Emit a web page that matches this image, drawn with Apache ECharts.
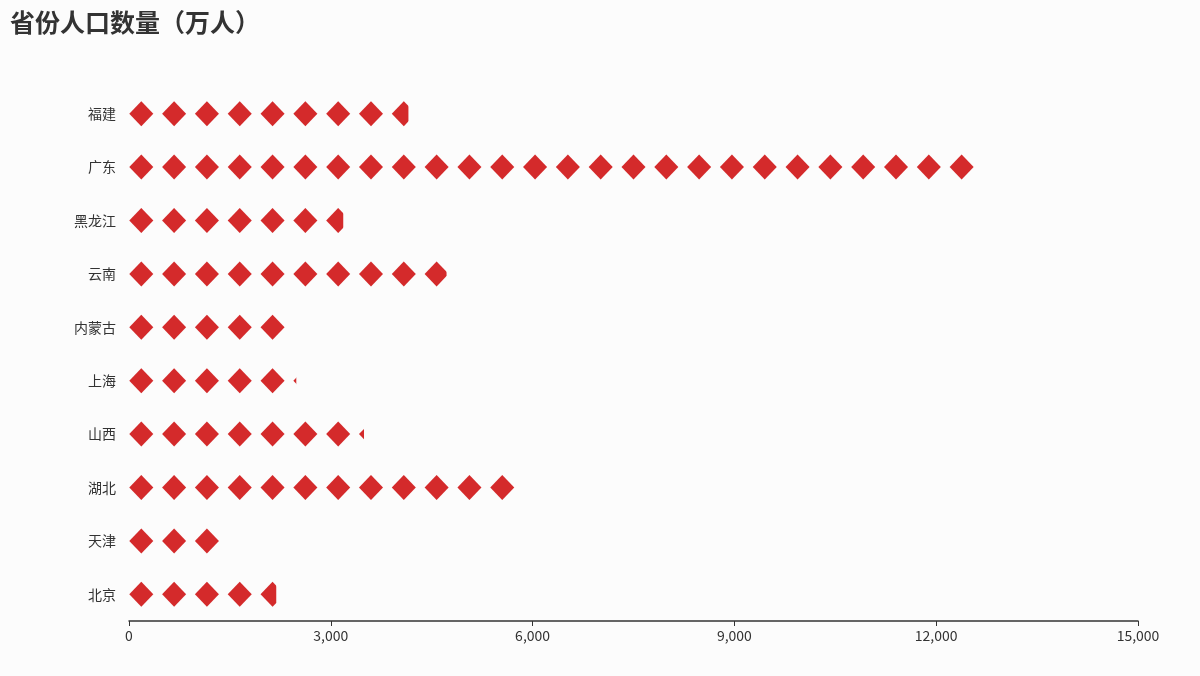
<!DOCTYPE html>
<html>
<head>
<meta charset="utf-8">
<script src="https://cdn.jsdelivr.net/npm/echarts@6/dist/echarts.min.js"></script>
<style>
html,body{margin:0;padding:0;background:#fcfcfc;}
#main{width:1200px;height:676px;}
</style>
</head>
<body>
<div id="main"></div>
<script>
var titleText = '省份人口数量（万人）';
var provinces = ['北京', '天津', '湖北', '山西', '上海', '内蒙古', '云南', '黑龙江', '广东', '福建'];
var population = [2189, 1387, 5775, 3492, 2487, 2405, 4721, 3185, 12601, 4154];
var xMax = 15000;
var xInterval = 3000;

var chart = echarts.init(document.getElementById('main'));
var font = '"Noto Sans CJK SC", "Noto Sans", sans-serif';
chart.setOption({
  backgroundColor: '#fcfcfc',
  animation: false,
  title: {
    text: titleText,
    left: 5,
    top: 5,
    textStyle: {fontSize: 25, fontWeight: 'bold', color: '#333', fontFamily: font}
  },
  grid: {left: 129, right: 62, top: 87, bottom: 55, containLabel: false},
  xAxis: {
    type: 'value',
    min: 0,
    max: xMax,
    interval: xInterval,
    splitLine: {show: false},
    axisLine: {show: true, lineStyle: {color: '#333', width: 1.5}},
    axisTick: {show: true, length: 5, lineStyle: {color: '#333'}},
    axisLabel: {
      color: '#333', fontSize: 14, fontFamily: font, margin: 8,
      formatter: function (v) { return v.toLocaleString('en-US'); }
    }
  },
  yAxis: {
    type: 'category',
    data: provinces,
    axisLine: {show: false},
    axisTick: {show: false},
    axisLabel: {color: '#333', fontSize: 14, fontFamily: font, margin: 13}
  },
  series: [{
    type: 'pictorialBar',
    data: population,
    symbol: 'diamond',
    symbolSize: [24, 25],
    symbolRepeat: 31,
    symbolClip: true,
    symbolMargin: 4,
    symbolBoundingData: xMax,
    itemStyle: {color: '#d42a2b', borderColor: '#b52327', borderWidth: 0.6}
  }]
});
</script>
</body>
</html>
